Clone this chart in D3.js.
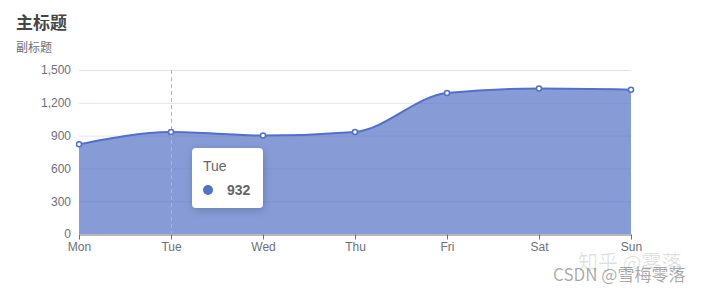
<!DOCTYPE html>
<html>
<head>
<meta charset="utf-8">
<script src="https://cdn.jsdelivr.net/npm/d3@7"></script>
<style>
  body { margin: 0; background: #fff; }
  svg { display: block; font-family: "Noto Sans CJK SC", "Noto Sans", sans-serif; }
</style>
</head>
<body>
<svg id="chart" width="705" height="292"></svg>
<script>
// chart data
const days = ['Mon', 'Tue', 'Wed', 'Thu', 'Fri', 'Sat', 'Sun'];
const values = [820, 932, 901, 934, 1290, 1330, 1320];
const yTicks = [0, 300, 600, 900, 1200, 1500];
const hoverIndex = 1;

const svg = d3.select('#chart');
const gridLeft = 79, gridRight = 631, gridTop = 70, gridBottom = 234;

const x = d3.scalePoint().domain(days).range([gridLeft, gridRight]);
const y = d3.scaleLinear().domain([0, 1500]).range([gridBottom, gridTop]);

// titles
svg.append('text').attr('x', 16).attr('y', 29)
    .attr('font-size', 17).attr('font-weight', 'bold').attr('fill', '#464646')
    .text('主标题');
svg.append('text').attr('x', 16).attr('y', 52)
    .attr('font-size', 12).attr('fill', '#6e7079')
    .text('副标题');

// split lines
svg.append('g').selectAll('line').data(yTicks.filter(d => d > 0)).join('line')
    .attr('x1', gridLeft).attr('x2', gridRight)
    .attr('y1', d => y(d) + 0.5).attr('y2', d => y(d) + 0.5)
    .attr('stroke', '#e0e6f1');

// y axis labels
const yAxis = d3.axisLeft(y).tickValues(yTicks).tickSize(0).tickPadding(8)
    .tickFormat(d3.format(','));
const gy = svg.append('g').attr('transform', `translate(${gridLeft},0)`).call(yAxis);
gy.select('.domain').remove();
gy.selectAll('text').attr('font-size', 12).attr('fill', '#6e7079')
    .attr('font-family', 'Liberation Sans, Arial, sans-serif');

// area + line
const curve = d3.curveMonotoneX;
const area = d3.area().x((d, i) => x(days[i])).y0(y(0)).y1(d => y(d)).curve(curve);
const line = d3.line().x((d, i) => x(days[i])).y(d => y(d)).curve(curve);

svg.append('path').datum(values).attr('d', area)
    .attr('fill', '#5470c6').attr('fill-opacity', 0.7);

// hover pointer line
svg.append('line')
    .attr('x1', x(days[hoverIndex]) + 0.5).attr('x2', x(days[hoverIndex]) + 0.5)
    .attr('y1', gridTop).attr('y2', gridBottom)
    .attr('stroke', '#b6b6b6').attr('stroke-dasharray', '4,3');

svg.append('path').datum(values).attr('d', line)
    .attr('fill', 'none').attr('stroke', '#5470c6').attr('stroke-width', 2);

// x axis
const xAxis = d3.axisBottom(x).tickSize(5).tickPadding(3).tickSizeOuter(0);
const gx = svg.append('g').attr('transform', `translate(0,${gridBottom + 0.5})`).call(xAxis);
gx.select('.domain').attr('stroke', '#6e7079');
gx.selectAll('.tick line').attr('stroke', '#6e7079');
gx.selectAll('text').attr('font-size', 12).attr('fill', '#6e7079')
    .attr('font-family', 'Liberation Sans, Arial, sans-serif');

// symbols
svg.append('g').selectAll('circle').data(values).join('circle')
    .attr('cx', (d, i) => x(days[i])).attr('cy', d => y(d))
    .attr('r', 2.5).attr('fill', '#fff').attr('stroke', '#5470c6').attr('stroke-width', 1.5);

// tooltip
const defs = svg.append('defs');
const f = defs.append('filter').attr('id', 'shadow').attr('x', '-30%').attr('y', '-30%')
    .attr('width', '160%').attr('height', '160%');
f.append('feDropShadow').attr('dx', 1).attr('dy', 2).attr('stdDeviation', 4)
    .attr('flood-color', '#000').attr('flood-opacity', 0.2);

const tip = svg.append('g').attr('transform', 'translate(192,148)');
tip.append('rect').attr('width', 71).attr('height', 60).attr('rx', 4)
    .attr('fill', '#fff').attr('filter', 'url(#shadow)');
tip.append('text').attr('x', 11).attr('y', 23).attr('font-size', 14).attr('fill', '#666')
    .attr('font-family', 'Liberation Sans, Arial, sans-serif')
    .text(days[hoverIndex]);
tip.append('circle').attr('cx', 16).attr('cy', 42).attr('r', 5).attr('fill', '#5470c6');
tip.append('text').attr('x', 35).attr('y', 47).attr('font-size', 14).attr('font-weight', 'bold')
    .attr('fill', '#666').attr('font-family', 'Liberation Sans, Arial, sans-serif')
    .text(values[hoverIndex]);

// watermarks
svg.append('text').attr('x', 578).attr('y', 270).attr('font-size', 20)
    .attr('fill', '#000').attr('fill-opacity', 0.12)
    .text('知乎 @雾落');
svg.append('text').attr('x', 553).attr('y', 281).attr('font-size', 17)
    .attr('fill', '#000').attr('fill-opacity', 0.35)
    .text('CSDN @雪梅零落');
</script>
</body>
</html>
